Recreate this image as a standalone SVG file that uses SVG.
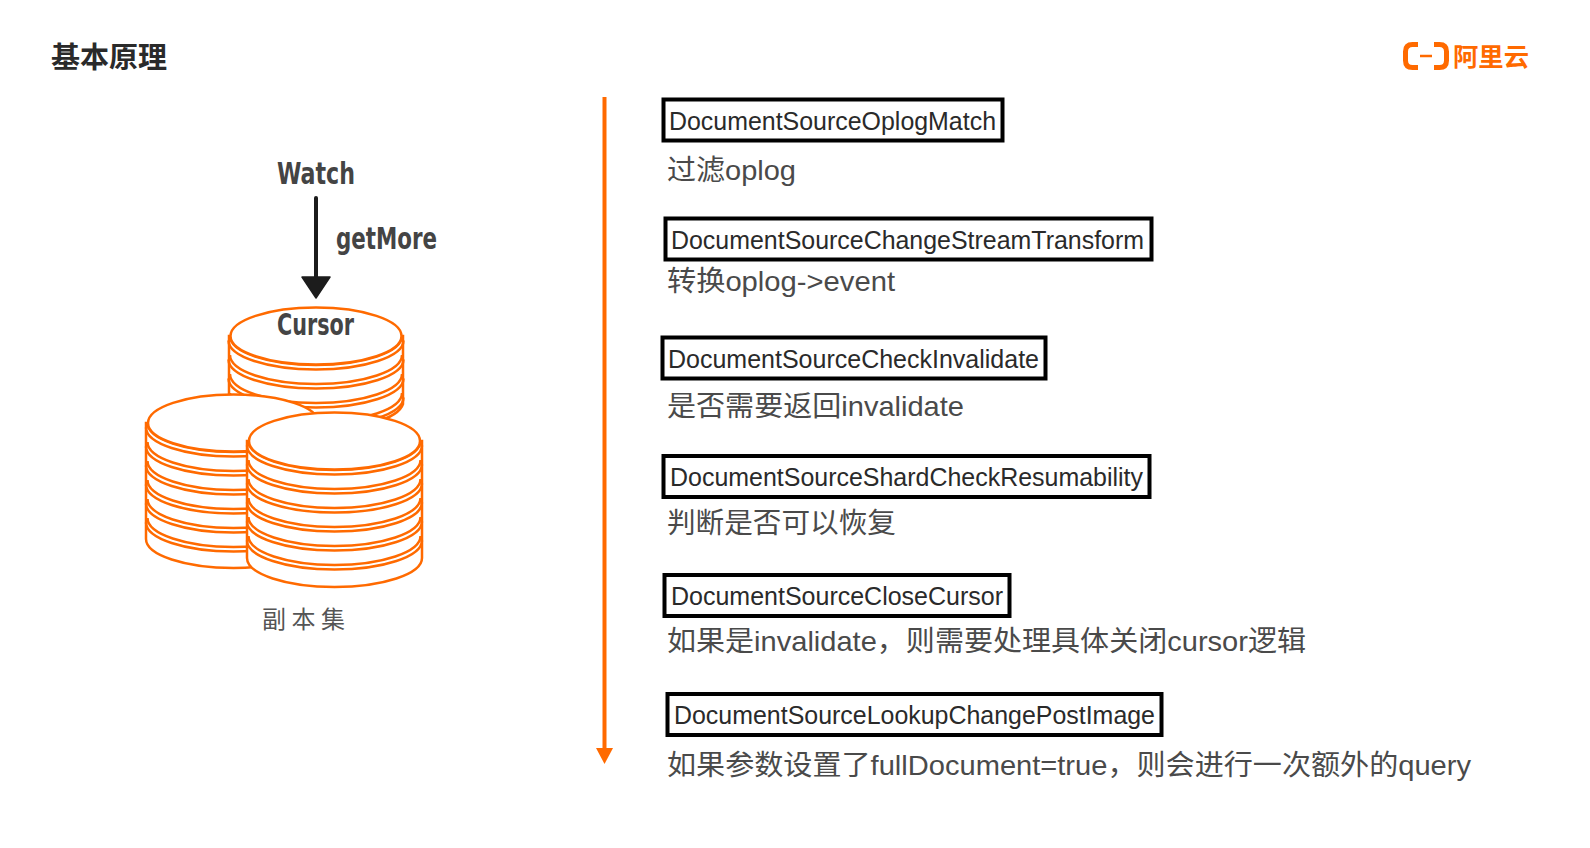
<svg xmlns="http://www.w3.org/2000/svg" xmlns:xlink="http://www.w3.org/1999/xlink" width="1590" height="848" viewBox="0 0 1590 848">
<style>
.box{fill:#fff;stroke:#000;stroke-width:4}
.name{font-family:"Liberation Sans",Arial,sans-serif;font-size:25px;fill:#2a2a2a}
.sub{font-family:"Liberation Sans","Noto Sans CJK SC",sans-serif;font-size:28px;fill:#4a4a4a}
.hand{font-family:"Liberation Sans Narrow","DejaVu Sans Condensed","Liberation Sans",sans-serif;font-weight:700;font-size:31px;fill:#444}
.coin{fill:#fff;stroke:#ff6a00;stroke-width:2.500}
.rim{fill:none;stroke:#ff6a00;stroke-width:2.500}
</style>
<defs>
<path id="rims" class="rim" d="M-86,0A86,29 0 0 0 86,0M-87.500,4.500A87.500,29 0 0 0 87.500,4.500"/>
<ellipse id="lid" class="coin" cx="0" cy="0" rx="85.500" ry="28.500"/>
</defs>
<rect width="1590" height="848" fill="#fff"/>
<text id="title" x="51" y="68" font-family="'Noto Sans CJK SC',sans-serif" font-size="29" font-weight="700" fill="#2a2a2a" textLength="116" lengthAdjust="spacingAndGlyphs">基本原理</text>
<g id="logo">
<path d="M1418,44.500h-5.500q-7,0 -7,7v9q0,7 7,7h5.500M1434,44.500h5.500q7,0 7,7v9q0,7 -7,7h-5.500" fill="none" stroke="#ff6a00" stroke-width="5"/>
<path d="M1420,56H1432" stroke="#ff6a00" stroke-width="2.500"/>
<text x="1453" y="66" font-family="'Noto Sans CJK SC',sans-serif" font-size="25" font-weight="700" fill="#ff6a00" textLength="76" lengthAdjust="spacingAndGlyphs">阿里云</text>
</g>
<g id="stack-top">
<path class="coin" d="M229,336V404A87.500,29 0 0 0 403,404V336Z"/>
<use xlink:href="#rims" href="#rims" x="316" y="393"/>
<use xlink:href="#rims" href="#rims" x="316" y="374"/>
<use xlink:href="#rims" href="#rims" x="316" y="355"/>
<use xlink:href="#rims" href="#rims" x="316" y="336"/>
<use xlink:href="#lid" href="#lid" x="316" y="336"/>
</g>
<g id="stack-left">
<path class="coin" d="M146,423V539A87.500,29 0 0 0 321,539V423Z"/>
<use xlink:href="#rims" href="#rims" x="233.500" y="518"/>
<use xlink:href="#rims" href="#rims" x="233.500" y="499"/>
<use xlink:href="#rims" href="#rims" x="233.500" y="480"/>
<use xlink:href="#rims" href="#rims" x="233.500" y="461"/>
<use xlink:href="#rims" href="#rims" x="233.500" y="442"/>
<use xlink:href="#rims" href="#rims" x="233.500" y="423"/>
<use xlink:href="#lid" href="#lid" x="233.500" y="423"/>
</g>
<g id="stack-right">
<path class="coin" d="M247,441V558A87.500,29 0 0 0 422,558V441Z"/>
<use xlink:href="#rims" href="#rims" x="334.500" y="536"/>
<use xlink:href="#rims" href="#rims" x="334.500" y="517"/>
<use xlink:href="#rims" href="#rims" x="334.500" y="498"/>
<use xlink:href="#rims" href="#rims" x="334.500" y="479"/>
<use xlink:href="#rims" href="#rims" x="334.500" y="460"/>
<use xlink:href="#rims" href="#rims" x="334.500" y="441"/>
<use xlink:href="#lid" href="#lid" x="334.500" y="441"/>
</g>
<g id="labels-left">
<text class="hand" x="277" y="184" textLength="78" lengthAdjust="spacingAndGlyphs">Watch</text>
<text class="hand" x="336" y="249" textLength="101" lengthAdjust="spacingAndGlyphs">getMore</text>
<text class="hand" x="277" y="335" textLength="77" lengthAdjust="spacingAndGlyphs">Cursor</text>
<text x="262" y="628" font-family="'Noto Sans CJK SC',sans-serif" font-size="24" font-weight="400" fill="#555" textLength="83" lengthAdjust="spacing">副本集</text>
</g>
<g id="connectors">
<path d="M316,198V280" stroke="#1c1c1c" stroke-width="4" stroke-linecap="round" fill="none"/>
<path d="M302,277H330L316,298Z" fill="#1c1c1c" stroke="#1c1c1c" stroke-width="1.500" stroke-linejoin="round"/>
<path d="M604.500,97V750" stroke="#ff6a00" stroke-width="4" fill="none"/>
<path d="M596,748H613L604.500,764Z" fill="#ff6a00"/>
</g>
<g id="step1"><rect class="box" x="663.500" y="99.500" width="339" height="41"/><text class="name" x="669" y="130" textLength="327" lengthAdjust="spacingAndGlyphs">DocumentSourceOplogMatch</text><text class="sub" x="667" y="180" textLength="129" lengthAdjust="spacingAndGlyphs">过滤oplog</text></g>
<g id="step2"><rect class="box" x="665.500" y="218.500" width="486" height="41"/><text class="name" x="671" y="249" textLength="473" lengthAdjust="spacingAndGlyphs">DocumentSourceChangeStreamTransform</text><text class="sub" x="667" y="291" textLength="228" lengthAdjust="spacingAndGlyphs">转换oplog-&gt;event</text></g>
<g id="step3"><rect class="box" x="662.500" y="337.500" width="383" height="41"/><text class="name" x="668" y="368" textLength="371" lengthAdjust="spacingAndGlyphs">DocumentSourceCheckInvalidate</text><text class="sub" x="667" y="416" textLength="297" lengthAdjust="spacingAndGlyphs">是否需要返回invalidate</text></g>
<g id="step4"><rect class="box" x="663.500" y="456" width="486" height="41"/><text class="name" x="670" y="486" textLength="473" lengthAdjust="spacingAndGlyphs">DocumentSourceShardCheckResumability</text><text class="sub" x="667" y="533" textLength="229" lengthAdjust="spacingAndGlyphs">判断是否可以恢复</text></g>
<g id="step5"><rect class="box" x="664.500" y="575" width="345" height="41"/><text class="name" x="671" y="605" textLength="332" lengthAdjust="spacingAndGlyphs">DocumentSourceCloseCursor</text><text class="sub" x="667" y="651" textLength="639" lengthAdjust="spacingAndGlyphs">如果是invalidate，则需要处理具体关闭cursor逻辑</text></g>
<g id="step6"><rect class="box" x="667.500" y="694" width="494" height="41"/><text class="name" x="674" y="724" textLength="481" lengthAdjust="spacingAndGlyphs">DocumentSourceLookupChangePostImage</text><text class="sub" x="667" y="775" textLength="804" lengthAdjust="spacingAndGlyphs">如果参数设置了fullDocument=true，则会进行一次额外的query</text></g>
</svg>
